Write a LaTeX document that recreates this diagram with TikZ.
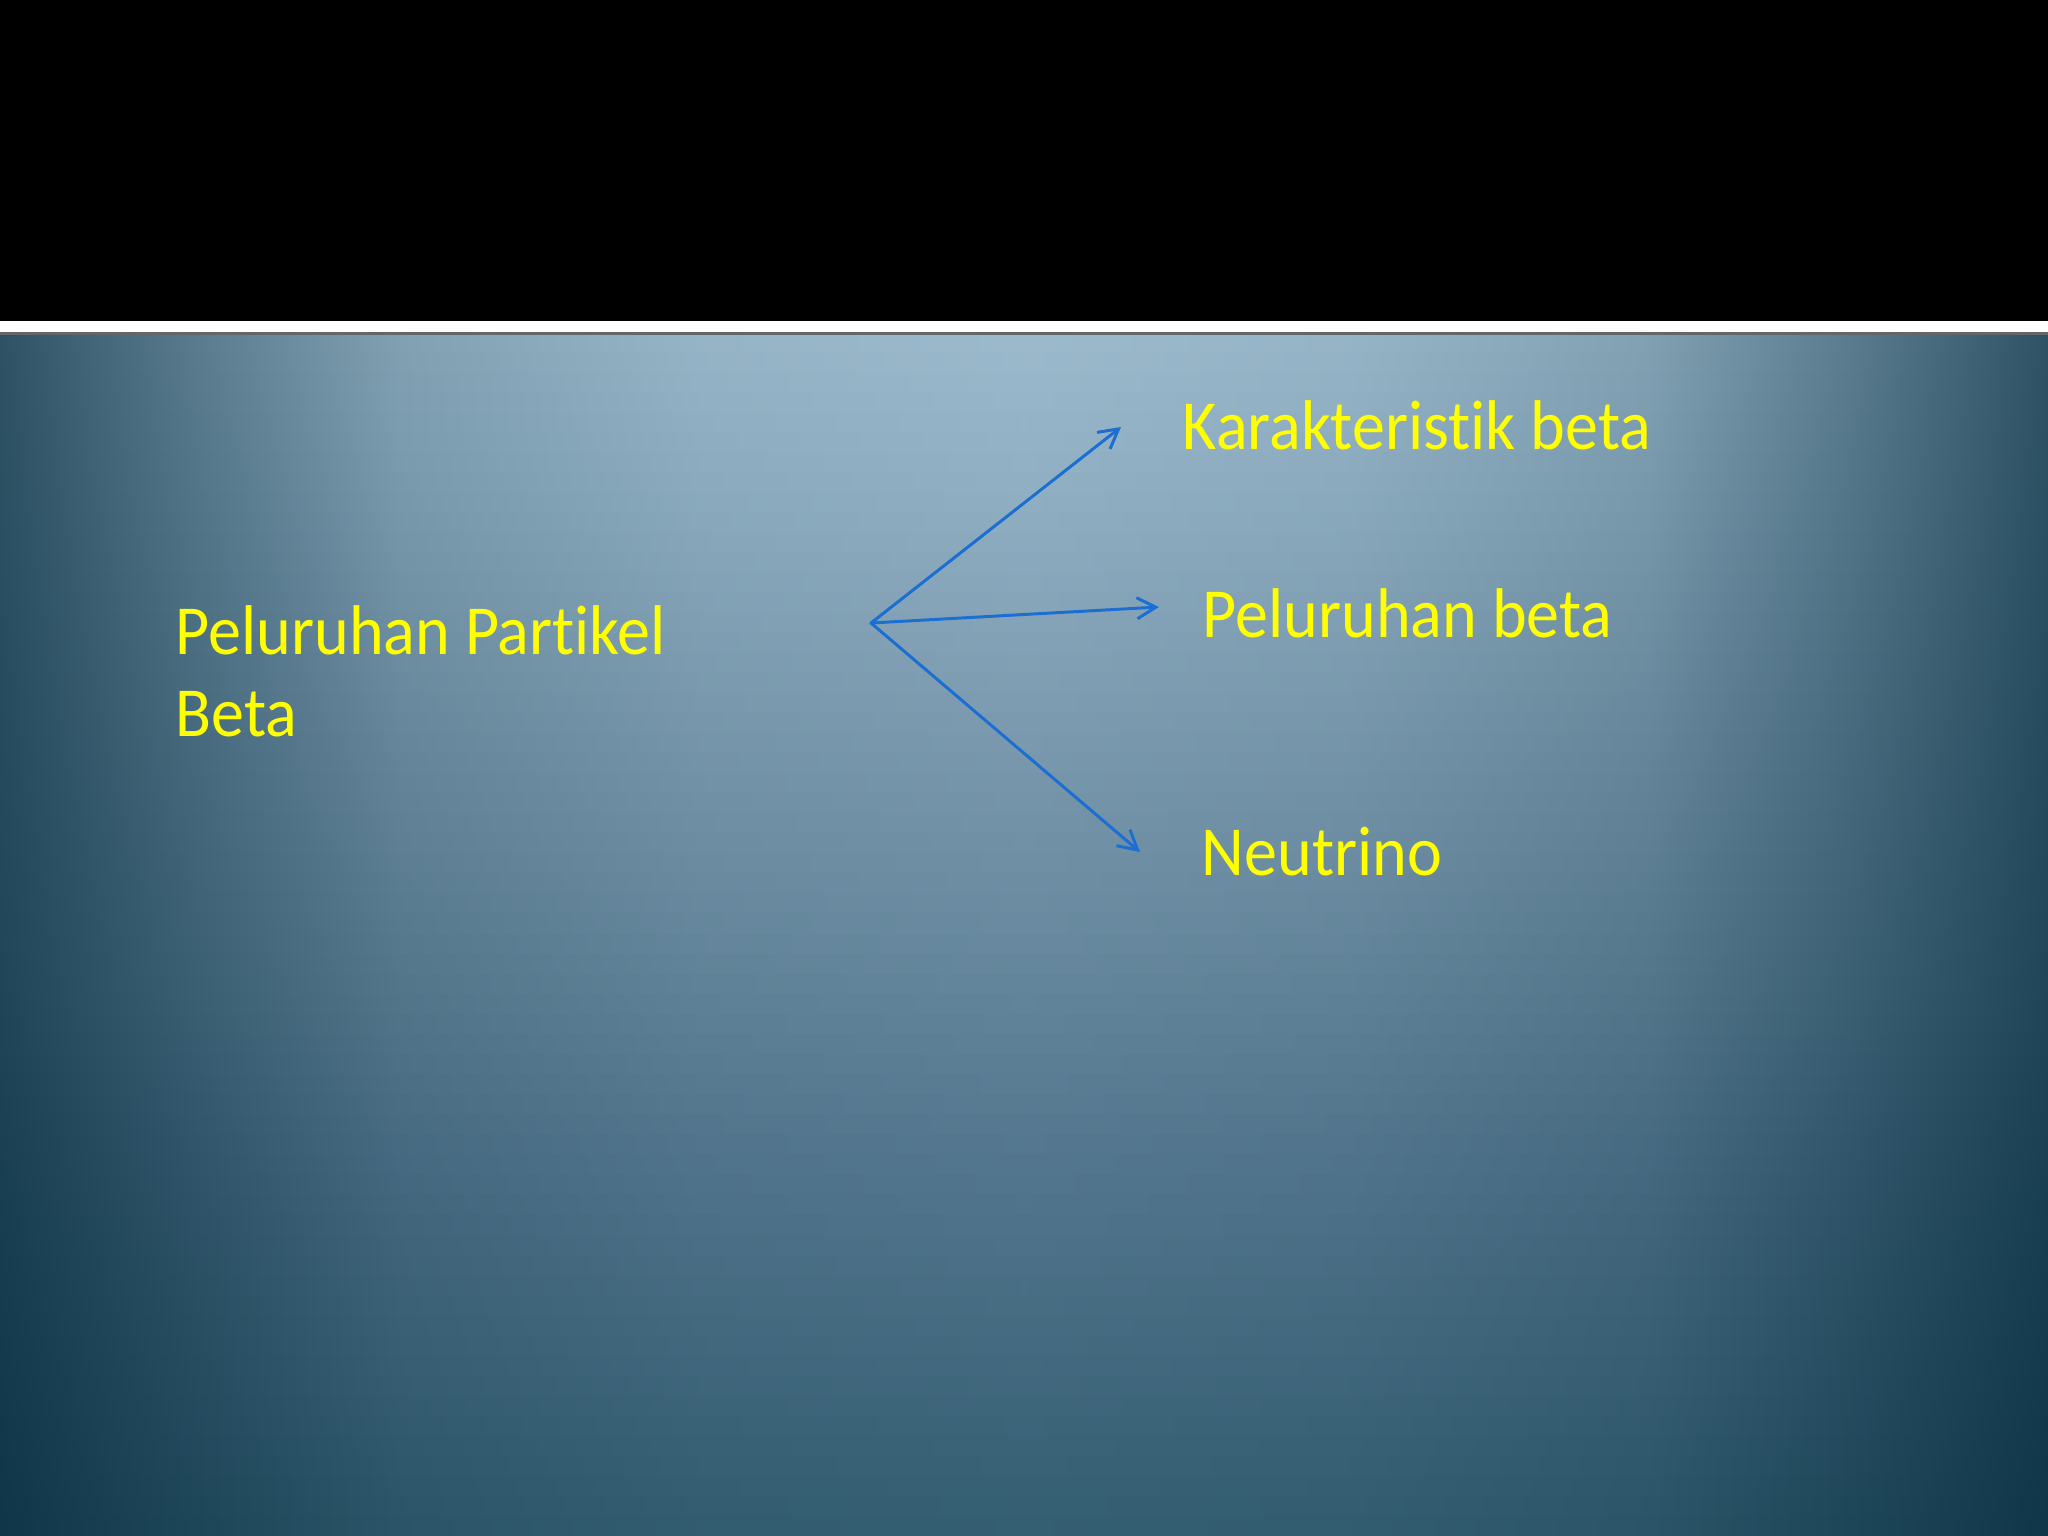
\documentclass[tikz,border=0pt]{standalone}
\usepackage{fontspec}
\setmainfont{Carlito}
\newfontfamily\slidefont[FakeStretch=0.94,Ligatures=NoCommon]{Carlito}
\usetikzlibrary{arrows.meta}
\definecolor{txtyellow}{HTML}{FFFF00}
\definecolor{arrowblue}{HTML}{1C6FD2}
\definecolor{edgedark}{HTML}{0A3042}
\definecolor{vA}{HTML}{9CBACC}
\definecolor{vB}{HTML}{8FAEC2}
\definecolor{vC}{HTML}{7A99AE}
\definecolor{vD}{HTML}{62849A}
\definecolor{vE}{HTML}{557890}
\definecolor{vF}{HTML}{335D71}
\newcommand\mixcenter[1]{%
  \ifdim #1pt<500pt \pgfmathsetmacro{\pp}{(#1-332)/1.68}\colorlet{cc}{vB!\pp!vA}%
  \else\ifdim #1pt<740pt \pgfmathsetmacro{\pp}{(#1-500)/2.4}\colorlet{cc}{vC!\pp!vB}%
  \else\ifdim #1pt<1000pt \pgfmathsetmacro{\pp}{(#1-740)/2.6}\colorlet{cc}{vD!\pp!vC}%
  \else\ifdim #1pt<1140pt \pgfmathsetmacro{\pp}{(#1-1000)/1.4}\colorlet{cc}{vE!\pp!vD}%
  \else \pgfmathsetmacro{\pp}{min(100,(#1-1140)/3.96)}\colorlet{cc}{vF!\pp!vE}%
  \fi\fi\fi\fi}
\tikzset{
  label text/.style={font=\slidefont\fontsize{20}{23.3}\selectfont, text=txtyellow, inner sep=0pt, anchor=base west},
  branch/.style={draw=arrowblue, line width=0.85pt, line cap=round, line join=round,
    -{Straight Barb[length=0.19cm, width=0.21cm, line width=0.85pt]}}
}
\begin{document}
\begin{tikzpicture}[x=0.01cm, y=-0.01cm]
\useasboundingbox (0,0) rectangle (2048,1536);
% background: horizontal bands, each shaded from dark edges to a lighter centre
\foreach \i in {0,...,59}{
  \pgfmathsetmacro{\ya}{332+\i*20.0667}
  \pgfmathsetmacro{\yb}{min(1536,\ya+21.6)}
  \pgfmathsetmacro{\ym}{\ya+10.03}
  \mixcenter{\ym}
  \pgfmathsetmacro{\ff}{ifthenelse(\ym<1000,1,1+0.15*(\ym-1000)/536)}
  \pgfmathsetmacro{\ma}{75*\ff}
  \pgfmathsetmacro{\mb}{60*\ff}
  \pgfmathsetmacro{\mc}{45*\ff}
  \pgfmathsetmacro{\md}{18*\ff}
  \pgfmathsetmacro{\me}{4*\ff}
  \colorlet{ea}{edgedark!\ma!cc}
  \colorlet{eb}{edgedark!\mb!cc}
  \colorlet{ec}{edgedark!\mc!cc}
  \colorlet{ed}{edgedark!\md!cc}
  \colorlet{ee}{edgedark!\me!cc}
  \pgfdeclarehorizontalshading{bandsh\i}{100bp}{%
    color(0bp)=(ea); color(25bp)=(ea); color(27.44bp)=(eb); color(29.88bp)=(ec);
    color(34.77bp)=(ed); color(42.09bp)=(ee); color(50bp)=(cc);
    color(57.91bp)=(ee); color(65.23bp)=(ed); color(70.12bp)=(ec);
    color(72.56bp)=(eb); color(75bp)=(ea); color(100bp)=(ea)}
  \shade[shading=bandsh\i] (0,\ya) rectangle (2048,\yb);
}
% header
\fill[black] (0,0) rectangle (2048,321);
\fill[white] (0,321) rectangle (2048,332);
\fill[black!60] (0,332) rectangle (2048,335);
% nodes
\node[label text, align=left] (src) at (175,736) {Peluruhan Partikel\\Beta};
\coordinate (hub) at (871,623);
\coordinate (t1) at (1121,427);
\coordinate (t2) at (1159,607);
\coordinate (t3) at (1140,852);
\node[label text] (k) at (1182,449) {Karakteristik beta};
\node[label text] (p) at (1202,637) {Peluruhan beta};
\node[label text] (n) at (1201,875) {Neutrino};
\draw[branch] (hub) -- (t1);
\draw[branch] (hub) -- (t2);
\draw[branch] (hub) -- (t3);
\end{tikzpicture}
\end{document}
